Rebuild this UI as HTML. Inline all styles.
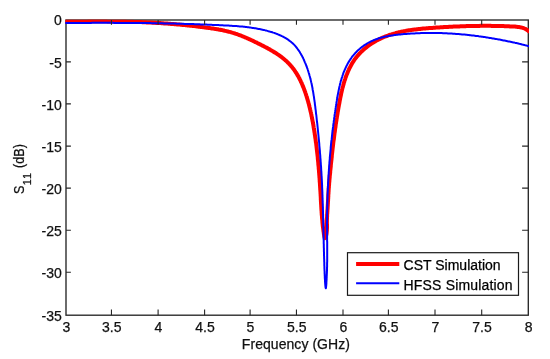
<!DOCTYPE html>
<html><head><meta charset="utf-8"><title>S11 plot</title>
<style>html,body{margin:0;padding:0;background:#fff;width:550px;height:359px;overflow:hidden}svg{display:block}</style>
</head><body>
<svg width="550" height="359" viewBox="0 0 550 359">
<rect width="550" height="359" fill="#fff"/>
<defs><clipPath id="c"><rect x="65.30" y="19.50" width="463.70" height="296.20"/></clipPath></defs>
<rect x="66.0" y="20.0" width="462.30" height="295.20" fill="none" stroke="#262626" stroke-width="1.35"/>
<g clip-path="url(#c)" fill="none" stroke-linejoin="round" stroke-linecap="round">
<polyline points="64.0,21.7 64.9,21.7 65.7,21.6 66.6,21.6 67.5,21.6 68.4,21.6 69.2,21.6 70.1,21.6 71.0,21.6 71.8,21.5 72.7,21.5 73.6,21.5 74.5,21.5 75.3,21.5 76.2,21.5 77.1,21.5 78.0,21.5 78.8,21.4 79.7,21.4 80.6,21.4 81.4,21.4 82.3,21.4 83.2,21.4 84.1,21.4 84.9,21.4 85.8,21.4 86.7,21.4 87.5,21.4 88.4,21.3 89.3,21.3 90.2,21.3 91.0,21.3 91.9,21.3 92.8,21.3 93.6,21.3 94.5,21.3 95.4,21.3 96.3,21.3 97.1,21.3 98.0,21.3 98.9,21.3 99.7,21.3 100.6,21.3 101.5,21.3 102.4,21.3 103.2,21.3 104.1,21.3 105.0,21.3 105.8,21.3 106.7,21.3 107.6,21.4 108.4,21.4 109.3,21.4 110.2,21.4 111.1,21.4 111.9,21.4 112.8,21.4 113.7,21.4 114.5,21.4 115.4,21.4 116.3,21.4 117.1,21.5 118.0,21.5 118.9,21.5 119.8,21.5 120.6,21.5 121.5,21.5 122.4,21.6 123.2,21.6 124.1,21.6 125.0,21.6 125.8,21.6 126.7,21.7 127.6,21.7 128.5,21.7 129.3,21.7 130.2,21.8 131.1,21.8 131.9,21.8 132.8,21.8 133.7,21.9 134.5,21.9 135.4,21.9 136.3,21.9 137.1,22.0 138.0,22.0 138.9,22.0 139.7,22.1 140.6,22.1 141.5,22.1 142.4,22.2 143.2,22.2 144.1,22.3 145.0,22.3 145.8,22.3 146.7,22.4 147.6,22.4 148.4,22.5 149.3,22.5 150.2,22.5 151.0,22.6 151.9,22.6 152.8,22.7 153.6,22.7 154.5,22.8 155.4,22.8 156.2,22.9 157.1,22.9 158.0,23.0 158.8,23.0 159.7,23.1 160.6,23.1 161.5,23.2 162.3,23.3 163.2,23.3 164.1,23.4 164.9,23.4 165.8,23.5 166.7,23.6 167.5,23.6 168.4,23.7 169.3,23.8 170.1,23.8 171.0,23.9 171.9,24.0 172.7,24.0 173.6,24.1 174.5,24.2 175.3,24.2 176.2,24.3 177.1,24.4 177.9,24.5 178.8,24.5 179.7,24.6 180.5,24.7 181.4,24.8 182.3,24.9 183.1,25.0 184.0,25.0 184.9,25.1 185.7,25.2 186.6,25.3 187.5,25.4 188.3,25.5 189.2,25.6 190.1,25.7 190.9,25.8 191.8,25.8 192.7,25.9 193.5,26.0 194.4,26.1 195.3,26.2 196.1,26.3 197.0,26.4 197.9,26.5 198.7,26.7 199.6,26.8 200.5,26.9 201.3,27.0 202.2,27.1 203.1,27.2 203.9,27.3 204.8,27.4 205.7,27.5 206.5,27.7 207.4,27.8 208.3,27.9 209.1,28.0 210.0,28.1 210.9,28.3 211.7,28.4 212.6,28.5 213.5,28.6 214.3,28.8 215.2,28.9 216.1,29.1 216.9,29.2 217.8,29.3 218.6,29.5 219.5,29.7 220.4,29.8 221.2,30.0 222.1,30.1 222.9,30.3 223.8,30.5 224.6,30.7 225.5,30.9 226.3,31.1 227.1,31.3 228.0,31.5 228.8,31.7 229.7,31.9 230.5,32.1 231.3,32.4 232.1,32.6 233.0,32.9 233.8,33.1 234.6,33.4 235.4,33.7 236.2,33.9 237.1,34.2 237.9,34.5 238.7,34.8 239.5,35.1 240.3,35.4 241.1,35.7 241.9,36.0 242.7,36.4 243.5,36.7 244.3,37.0 245.1,37.4 245.9,37.7 246.7,38.0 247.5,38.4 248.3,38.7 249.1,39.1 249.8,39.4 250.6,39.8 251.4,40.2 252.2,40.5 253.0,40.9 253.8,41.3 254.6,41.7 255.4,42.1 256.2,42.4 257.0,42.8 257.7,43.2 258.5,43.6 259.3,44.0 260.1,44.4 260.9,44.8 261.7,45.2 262.5,45.6 263.3,46.0 264.1,46.4 264.8,46.8 265.6,47.2 266.4,47.6 267.2,48.0 268.0,48.5 268.7,48.9 269.5,49.3 270.3,49.8 271.0,50.2 271.8,50.6 272.6,51.1 273.3,51.6 274.1,52.0 274.8,52.5 275.6,52.9 276.3,53.4 277.0,53.9 277.7,54.4 278.5,54.9 279.2,55.4 279.9,55.9 280.6,56.4 281.3,56.9 282.0,57.4 282.7,58.0 283.3,58.5 284.0,59.1 284.7,59.6 285.3,60.2 286.0,60.8 286.6,61.3 287.2,61.9 287.8,62.5 288.4,63.1 289.0,63.7 289.6,64.4 290.2,65.0 290.8,65.6 291.3,66.3 291.9,66.9 292.4,67.6 292.9,68.3 293.5,69.0 294.0,69.7 294.5,70.4 295.0,71.1 295.4,71.8 295.9,72.5 296.4,73.2 296.8,74.0 297.3,74.7 297.7,75.5 298.2,76.2 298.6,77.0 299.0,77.7 299.4,78.5 299.8,79.3 300.2,80.1 300.6,80.9 300.9,81.7 301.3,82.4 301.7,83.2 302.0,84.0 302.4,84.9 302.7,85.7 303.0,86.5 303.4,87.3 303.7,88.1 304.0,88.9 304.3,89.8 304.6,90.6 304.9,91.4 305.2,92.2 305.5,93.1 305.8,93.9 306.0,94.7 306.3,95.6 306.6,96.4 306.8,97.2 307.1,98.1 307.3,98.9 307.6,99.7 307.8,100.6 308.1,101.4 308.3,102.2 308.5,103.1 308.8,103.9 309.0,104.7 309.2,105.6 309.4,106.4 309.6,107.3 309.8,108.1 310.0,108.9 310.2,109.8 310.4,110.6 310.6,111.5 310.8,112.3 311.0,113.1 311.2,114.0 311.4,114.8 311.5,115.7 311.7,116.5 311.9,117.4 312.0,118.2 312.2,119.1 312.4,119.9 312.5,120.8 312.7,121.6 312.9,122.5 313.0,123.3 313.2,124.2 313.3,125.0 313.5,125.9 313.6,126.8 313.7,127.6 313.9,128.5 314.0,129.3 314.2,130.2 314.3,131.0 314.4,131.9 314.6,132.8 314.7,133.6 314.8,134.5 315.0,135.3 315.1,136.2 315.2,137.1 315.3,137.9 315.5,138.8 315.6,139.7 315.7,140.5 315.8,141.4 315.9,142.3 316.1,143.1 316.2,144.0 316.3,144.9 316.4,145.7 316.5,146.6 316.6,147.5 316.7,148.3 316.8,149.2 316.9,150.1 317.0,150.9 317.1,151.8 317.2,152.7 317.3,153.5 317.4,154.4 317.5,155.3 317.6,156.1 317.7,157.0 317.8,157.9 317.8,158.8 317.9,159.6 318.0,160.5 318.1,161.4 318.2,162.2 318.3,163.1 318.3,164.0 318.4,164.9 318.5,165.7 318.6,166.6 318.7,167.5 318.7,168.3 318.8,169.2 318.9,170.1 319.0,170.9 319.0,171.8 319.1,172.7 319.2,173.5 319.2,174.4 319.3,175.3 319.4,176.2 319.4,177.0 319.5,177.9 319.6,178.8 319.6,179.6 319.7,180.5 319.7,181.4 319.8,182.2 319.9,183.1 319.9,184.0 320.0,184.8 320.0,185.7 320.1,186.5 320.1,187.4 320.2,188.3 320.2,189.1 320.3,190.0 320.4,190.9 320.4,191.7 320.5,192.6 320.5,193.4 320.6,194.3 320.6,195.2 320.7,196.0 320.7,196.9 320.8,197.7 320.8,198.6 320.8,199.5 320.9,200.3 320.9,201.2 321.0,202.0 321.0,202.9 321.1,203.7 321.1,204.6 321.2,205.5 321.2,206.3 321.3,207.2 321.3,208.0 321.4,208.9 321.4,209.8 321.5,210.6 321.6,211.5 321.6,212.4 321.7,213.2 321.7,214.1 321.8,215.0 321.9,215.9 322.0,216.8 322.0,217.6 322.1,218.5 322.2,219.4 322.3,220.3 322.4,221.2 322.4,222.1 322.5,223.0 322.6,223.9 322.7,224.8 322.8,225.8 322.9,226.7 323.0,227.6 323.2,228.5 323.3,229.5 323.4,230.4 323.5,231.3 323.7,232.3 323.8,233.3 323.9,234.2 324.1,235.2 324.2,236.1 324.4,237.0 324.6,237.7 324.8,238.1 325.0,238.2 325.3,238.0 325.5,237.5 325.8,236.7 326.0,235.8 326.3,234.9 326.5,233.9 326.6,232.9 326.7,232.0 326.8,231.0 326.9,230.1 326.9,229.1 327.0,228.2 327.0,227.2 327.0,226.3 327.0,225.4 327.0,224.5 326.9,223.6 326.9,222.7 326.9,221.8 326.9,220.9 326.9,220.0 327.0,219.1 327.0,218.2 327.0,217.4 327.1,216.5 327.1,215.6 327.1,214.7 327.2,213.9 327.3,213.0 327.3,212.2 327.4,211.3 327.4,210.5 327.5,209.6 327.6,208.8 327.6,207.9 327.7,207.0 327.7,206.2 327.8,205.3 327.8,204.5 327.9,203.6 327.9,202.8 328.0,201.9 328.0,201.1 328.1,200.2 328.1,199.3 328.2,198.5 328.2,197.6 328.3,196.7 328.3,195.9 328.3,195.0 328.4,194.2 328.5,193.3 328.5,192.4 328.6,191.5 328.6,190.7 328.7,189.8 328.7,188.9 328.8,188.1 328.9,187.2 328.9,186.3 329.0,185.4 329.1,184.6 329.1,183.7 329.2,182.8 329.3,181.9 329.4,181.1 329.4,180.2 329.5,179.3 329.6,178.4 329.7,177.6 329.7,176.7 329.8,175.8 329.9,175.0 330.0,174.1 330.1,173.2 330.2,172.3 330.2,171.5 330.3,170.6 330.4,169.7 330.5,168.8 330.6,168.0 330.7,167.1 330.8,166.2 330.8,165.4 330.9,164.5 331.0,163.6 331.1,162.8 331.2,161.9 331.3,161.0 331.4,160.2 331.5,159.3 331.6,158.4 331.7,157.6 331.8,156.7 331.8,155.8 331.9,155.0 332.0,154.1 332.1,153.2 332.2,152.4 332.3,151.5 332.4,150.7 332.5,149.8 332.6,148.9 332.7,148.1 332.8,147.2 332.9,146.4 333.0,145.5 333.1,144.7 333.2,143.8 333.3,142.9 333.4,142.1 333.5,141.2 333.6,140.4 333.8,139.5 333.9,138.7 334.0,137.8 334.1,137.0 334.2,136.1 334.3,135.2 334.4,134.4 334.5,133.5 334.6,132.7 334.8,131.8 334.9,131.0 335.0,130.1 335.1,129.3 335.2,128.4 335.4,127.5 335.5,126.7 335.6,125.8 335.7,125.0 335.8,124.1 336.0,123.3 336.1,122.4 336.2,121.5 336.4,120.7 336.5,119.8 336.6,119.0 336.8,118.1 336.9,117.3 337.0,116.4 337.2,115.5 337.3,114.7 337.5,113.8 337.6,113.0 337.7,112.1 337.9,111.2 338.0,110.4 338.2,109.5 338.3,108.6 338.5,107.8 338.6,106.9 338.8,106.1 338.9,105.2 339.1,104.3 339.3,103.5 339.4,102.6 339.6,101.7 339.7,100.9 339.9,100.0 340.1,99.1 340.2,98.2 340.4,97.4 340.6,96.5 340.8,95.6 341.0,94.8 341.1,93.9 341.3,93.1 341.5,92.2 341.7,91.3 341.9,90.5 342.1,89.6 342.3,88.8 342.5,87.9 342.8,87.0 343.0,86.2 343.2,85.3 343.5,84.5 343.7,83.6 343.9,82.8 344.2,82.0 344.4,81.1 344.7,80.3 345.0,79.5 345.3,78.6 345.5,77.8 345.8,77.0 346.1,76.2 346.4,75.4 346.7,74.6 347.1,73.8 347.4,73.0 347.7,72.2 348.1,71.4 348.4,70.6 348.8,69.8 349.1,69.0 349.5,68.2 349.9,67.5 350.3,66.7 350.7,66.0 351.1,65.2 351.5,64.5 351.9,63.7 352.4,63.0 352.8,62.3 353.3,61.5 353.8,60.8 354.2,60.1 354.7,59.4 355.2,58.7 355.8,58.0 356.3,57.4 356.8,56.7 357.4,56.0 357.9,55.4 358.5,54.7 359.1,54.1 359.7,53.4 360.3,52.8 360.9,52.2 361.5,51.6 362.1,51.0 362.8,50.4 363.4,49.8 364.1,49.2 364.8,48.6 365.4,48.1 366.1,47.5 366.8,47.0 367.5,46.4 368.2,45.9 368.9,45.4 369.6,44.9 370.4,44.4 371.1,43.9 371.8,43.4 372.6,42.9 373.3,42.5 374.1,42.0 374.8,41.6 375.6,41.2 376.3,40.7 377.1,40.3 377.9,39.9 378.6,39.5 379.4,39.1 380.2,38.8 381.0,38.4 381.7,38.0 382.5,37.7 383.3,37.3 384.1,37.0 384.9,36.7 385.7,36.4 386.5,36.1 387.3,35.8 388.1,35.5 388.9,35.2 389.7,34.9 390.5,34.6 391.4,34.4 392.2,34.1 393.0,33.9 393.8,33.6 394.7,33.4 395.5,33.2 396.3,32.9 397.1,32.7 398.0,32.5 398.8,32.3 399.7,32.1 400.5,31.9 401.3,31.7 402.2,31.6 403.0,31.4 403.9,31.2 404.7,31.1 405.6,30.9 406.4,30.7 407.3,30.6 408.1,30.5 409.0,30.3 409.9,30.2 410.7,30.1 411.6,29.9 412.4,29.8 413.3,29.7 414.2,29.6 415.0,29.5 415.9,29.4 416.8,29.3 417.6,29.2 418.5,29.1 419.4,29.0 420.3,28.9 421.1,28.8 422.0,28.7 422.9,28.6 423.7,28.5 424.6,28.5 425.5,28.4 426.4,28.3 427.2,28.3 428.1,28.2 429.0,28.1 429.9,28.1 430.7,28.0 431.6,27.9 432.5,27.9 433.4,27.8 434.2,27.7 435.1,27.7 436.0,27.6 436.9,27.6 437.7,27.5 438.6,27.5 439.5,27.4 440.3,27.3 441.2,27.3 442.1,27.2 443.0,27.2 443.8,27.1 444.7,27.1 445.6,27.0 446.4,27.0 447.3,26.9 448.2,26.9 449.1,26.8 449.9,26.8 450.8,26.8 451.7,26.7 452.5,26.7 453.4,26.6 454.3,26.6 455.1,26.6 456.0,26.5 456.9,26.5 457.7,26.4 458.6,26.4 459.5,26.4 460.3,26.3 461.2,26.3 462.1,26.3 463.0,26.2 463.8,26.2 464.7,26.2 465.6,26.2 466.4,26.1 467.3,26.1 468.2,26.1 469.0,26.0 469.9,26.0 470.8,26.0 471.6,26.0 472.5,26.0 473.4,25.9 474.2,25.9 475.1,25.9 476.0,25.9 476.8,25.9 477.7,25.9 478.6,25.9 479.4,25.9 480.3,25.8 481.2,25.8 482.0,25.8 482.9,25.8 483.8,25.8 484.6,25.8 485.5,25.8 486.4,25.8 487.2,25.8 488.1,25.8 489.0,25.8 489.8,25.8 490.7,25.8 491.6,25.9 492.4,25.9 493.3,25.9 494.2,25.9 495.0,25.9 495.9,25.9 496.8,25.9 497.7,26.0 498.5,26.0 499.4,26.0 500.3,26.0 501.1,26.0 502.0,26.1 502.9,26.1 503.7,26.1 504.6,26.2 505.5,26.2 506.4,26.2 507.2,26.3 508.1,26.3 509.0,26.3 509.9,26.4 510.7,26.4 511.6,26.4 512.5,26.5 513.3,26.5 514.2,26.6 515.1,26.6 516.0,26.7 516.8,26.8 517.7,26.9 518.6,27.0 519.4,27.1 520.3,27.3 521.1,27.4 521.9,27.6 522.8,27.9 523.6,28.2 524.4,28.5 525.2,28.8 526.0,29.3 526.7,29.7 527.5,30.2 528.2,30.8 529.0,31.4" stroke="#ff0000" stroke-width="4"/>
<polyline points="64.0,23.0 65.0,23.0 66.0,23.0 67.0,23.0 68.0,23.0 69.0,23.0 70.0,22.9 71.0,22.9 72.0,22.9 73.0,22.9 74.0,22.9 75.0,22.9 76.0,22.9 77.0,22.9 78.0,22.9 79.0,22.9 80.0,22.9 81.1,22.9 82.1,22.9 83.1,22.9 84.1,22.9 85.1,22.9 86.1,22.9 87.1,22.9 88.1,22.9 89.1,22.9 90.1,22.9 91.1,22.9 92.1,22.8 93.1,22.8 94.1,22.8 95.1,22.8 96.1,22.8 97.1,22.8 98.1,22.8 99.1,22.8 100.1,22.8 101.1,22.8 102.1,22.8 103.1,22.8 104.1,22.8 105.2,22.8 106.2,22.8 107.2,22.8 108.2,22.8 109.2,22.8 110.2,22.8 111.2,22.8 112.2,22.8 113.2,22.8 114.2,22.9 115.2,22.9 116.2,22.9 117.2,22.9 118.2,22.9 119.2,22.9 120.2,22.9 121.2,22.9 122.2,22.9 123.2,22.9 124.2,22.9 125.3,22.9 126.3,22.9 127.3,22.9 128.3,22.9 129.3,22.9 130.3,22.9 131.3,22.9 132.3,22.9 133.3,23.0 134.3,23.0 135.3,23.0 136.3,23.0 137.3,23.0 138.3,23.0 139.3,23.0 140.3,23.0 141.3,23.0 142.3,23.0 143.3,23.1 144.4,23.1 145.4,23.1 146.4,23.1 147.4,23.1 148.4,23.1 149.4,23.1 150.4,23.1 151.4,23.2 152.4,23.2 153.4,23.2 154.4,23.2 155.4,23.2 156.4,23.2 157.4,23.3 158.4,23.3 159.4,23.3 160.4,23.3 161.4,23.3 162.4,23.3 163.4,23.4 164.5,23.4 165.5,23.4 166.5,23.4 167.5,23.4 168.5,23.5 169.5,23.5 170.5,23.5 171.5,23.5 172.5,23.6 173.5,23.6 174.5,23.6 175.5,23.6 176.5,23.7 177.5,23.7 178.5,23.7 179.5,23.7 180.5,23.8 181.5,23.8 182.5,23.8 183.5,23.8 184.5,23.9 185.5,23.9 186.6,23.9 187.6,24.0 188.6,24.0 189.6,24.0 190.6,24.0 191.6,24.1 192.6,24.1 193.6,24.1 194.6,24.2 195.6,24.2 196.6,24.2 197.6,24.3 198.6,24.3 199.6,24.3 200.6,24.4 201.6,24.4 202.6,24.5 203.6,24.5 204.6,24.5 205.6,24.6 206.6,24.6 207.6,24.7 208.6,24.7 209.6,24.7 210.6,24.8 211.6,24.8 212.6,24.9 213.6,24.9 214.6,24.9 215.6,25.0 216.6,25.0 217.6,25.1 218.6,25.1 219.6,25.2 220.6,25.2 221.6,25.3 222.7,25.3 223.7,25.4 224.7,25.4 225.7,25.5 226.7,25.5 227.7,25.6 228.7,25.6 229.7,25.7 230.7,25.7 231.7,25.8 232.7,25.9 233.7,25.9 234.7,26.0 235.7,26.1 236.7,26.1 237.7,26.2 238.6,26.3 239.6,26.4 240.6,26.5 241.6,26.5 242.6,26.6 243.6,26.7 244.6,26.8 245.6,27.0 246.6,27.1 247.6,27.2 248.6,27.3 249.6,27.4 250.6,27.6 251.6,27.7 252.6,27.9 253.6,28.0 254.6,28.2 255.6,28.3 256.5,28.5 257.5,28.7 258.5,28.9 259.5,29.1 260.5,29.3 261.5,29.5 262.5,29.7 263.5,29.9 264.4,30.1 265.4,30.4 266.4,30.6 267.4,30.9 268.4,31.2 269.4,31.4 270.3,31.7 271.3,32.0 272.3,32.3 273.2,32.6 274.2,32.9 275.2,33.3 276.1,33.6 277.1,34.0 278.0,34.4 278.9,34.8 279.9,35.2 280.8,35.6 281.7,36.0 282.6,36.5 283.5,36.9 284.3,37.4 285.2,37.9 286.1,38.4 286.9,38.9 287.7,39.4 288.5,40.0 289.3,40.6 290.1,41.2 290.9,41.8 291.6,42.4 292.4,43.1 293.1,43.7 293.8,44.4 294.5,45.1 295.2,45.9 295.8,46.6 296.4,47.4 297.0,48.2 297.6,49.0 298.2,49.8 298.8,50.6 299.4,51.5 299.9,52.3 300.4,53.2 300.9,54.0 301.4,54.9 301.9,55.8 302.4,56.7 302.8,57.6 303.3,58.5 303.7,59.5 304.1,60.4 304.5,61.3 304.9,62.3 305.3,63.2 305.7,64.1 306.1,65.1 306.4,66.0 306.8,66.9 307.1,67.9 307.5,68.8 307.8,69.8 308.1,70.7 308.4,71.7 308.7,72.7 309.0,73.6 309.3,74.6 309.5,75.5 309.8,76.5 310.1,77.5 310.3,78.4 310.6,79.4 310.8,80.4 311.0,81.4 311.2,82.3 311.5,83.3 311.7,84.3 311.9,85.3 312.1,86.2 312.3,87.2 312.5,88.2 312.6,89.2 312.8,90.2 313.0,91.2 313.2,92.2 313.3,93.1 313.5,94.1 313.6,95.1 313.8,96.1 314.0,97.1 314.1,98.1 314.2,99.1 314.4,100.1 314.5,101.1 314.7,102.1 314.8,103.1 314.9,104.1 315.0,105.1 315.2,106.1 315.3,107.1 315.4,108.1 315.5,109.1 315.7,110.1 315.8,111.1 315.9,112.1 316.0,113.1 316.1,114.1 316.3,115.0 316.4,116.0 316.5,117.0 316.6,118.0 316.7,119.0 316.8,120.0 316.9,121.0 317.0,122.0 317.2,123.0 317.3,124.0 317.4,125.0 317.5,126.0 317.6,127.0 317.7,128.0 317.8,129.0 317.9,130.0 318.0,131.0 318.1,132.0 318.2,133.0 318.3,134.0 318.4,135.0 318.5,136.0 318.6,137.0 318.7,138.0 318.8,139.0 318.9,140.0 319.0,141.0 319.1,142.0 319.2,143.0 319.3,144.0 319.3,145.0 319.4,146.0 319.5,147.0 319.6,148.0 319.7,149.0 319.8,150.0 319.9,151.0 319.9,152.0 320.0,153.0 320.1,154.0 320.2,155.0 320.3,156.0 320.3,157.0 320.4,158.0 320.5,159.0 320.6,160.0 320.6,161.0 320.7,162.0 320.8,163.0 320.8,164.0 320.9,165.0 321.0,166.0 321.1,167.0 321.1,168.0 321.2,169.1 321.2,170.1 321.3,171.1 321.4,172.1 321.4,173.1 321.5,174.1 321.5,175.1 321.6,176.1 321.7,177.1 321.7,178.1 321.8,179.1 321.8,180.1 321.9,181.1 321.9,182.1 322.0,183.1 322.0,184.1 322.1,185.1 322.1,186.1 322.1,187.1 322.2,188.1 322.2,189.1 322.3,190.1 322.3,191.1 322.4,192.1 322.4,193.1 322.4,194.2 322.5,195.2 322.5,196.2 322.5,197.2 322.6,198.2 322.6,199.2 322.6,200.2 322.7,201.2 322.7,202.2 322.7,203.2 322.8,204.2 322.8,205.2 322.8,206.2 322.9,207.2 322.9,208.2 322.9,209.2 322.9,210.2 323.0,211.2 323.0,212.2 323.0,213.2 323.1,214.3 323.1,215.3 323.1,216.3 323.1,217.3 323.2,218.3 323.2,219.3 323.2,220.3 323.2,221.3 323.2,222.3 323.3,223.3 323.3,224.3 323.3,225.3 323.3,226.3 323.4,227.3 323.4,228.3 323.4,229.3 323.4,230.3 323.5,231.3 323.5,232.3 323.5,233.3 323.5,234.3 323.6,235.3 323.6,236.3 323.6,237.3 323.6,238.3 323.6,239.3 323.7,240.3 323.7,241.3 323.7,242.3 323.7,243.3 323.8,244.3 323.8,245.3 323.8,246.3 323.8,247.3 323.9,248.3 323.9,249.3 323.9,250.3 323.9,251.3 324.0,252.3 324.0,253.3 324.0,254.3 324.0,255.3 324.1,256.3 324.1,257.3 324.1,258.3 324.2,259.3 324.2,260.3 324.2,261.3 324.3,262.3 324.3,263.3 324.3,264.3 324.3,265.3 324.4,266.4 324.4,267.4 324.4,268.4 324.5,269.4 324.5,270.4 324.6,271.4 324.6,272.4 324.6,273.4 324.7,274.5 324.7,275.5 324.8,276.6 324.8,277.8 324.9,278.9 325.0,280.1 325.0,281.4 325.1,282.7 325.2,283.9 325.3,285.1 325.4,286.1 325.5,287.0 325.6,287.7 325.7,288.1 325.8,288.2 325.9,288.0 326.0,287.5 326.1,286.7 326.2,285.8 326.3,284.7 326.4,283.5 326.4,282.2 326.5,280.9 326.6,279.7 326.6,278.5 326.7,277.3 326.7,276.2 326.8,275.1 326.8,274.1 326.9,273.0 326.9,272.0 327.0,270.9 327.0,269.9 327.0,268.9 327.0,267.9 327.1,266.9 327.1,265.9 327.1,264.9 327.1,263.9 327.1,262.8 327.2,261.8 327.2,260.8 327.2,259.8 327.2,258.8 327.2,257.8 327.2,256.8 327.2,255.8 327.2,254.8 327.2,253.8 327.2,252.8 327.2,251.9 327.2,250.9 327.2,249.9 327.2,248.9 327.2,247.9 327.2,246.9 327.2,245.9 327.2,244.9 327.2,243.9 327.2,242.9 327.2,241.9 327.1,240.9 327.1,239.9 327.1,238.9 327.1,237.9 327.1,236.9 327.1,235.9 327.1,235.0 327.1,234.0 327.1,233.0 327.1,232.0 327.1,231.0 327.1,230.0 327.1,229.0 327.1,228.0 327.1,227.0 327.0,226.0 327.0,225.0 327.0,224.0 327.0,223.0 327.0,222.0 327.1,221.0 327.1,220.0 327.1,218.9 327.1,217.9 327.1,216.9 327.1,215.9 327.1,214.9 327.1,213.9 327.1,212.9 327.1,211.9 327.2,210.9 327.2,209.9 327.2,208.9 327.2,207.9 327.2,206.9 327.3,205.8 327.3,204.8 327.3,203.8 327.3,202.8 327.4,201.8 327.4,200.8 327.4,199.8 327.5,198.8 327.5,197.8 327.5,196.7 327.6,195.7 327.6,194.7 327.6,193.7 327.7,192.7 327.7,191.7 327.8,190.7 327.8,189.7 327.8,188.7 327.9,187.7 327.9,186.6 328.0,185.6 328.0,184.6 328.1,183.6 328.1,182.6 328.2,181.6 328.3,180.6 328.3,179.6 328.4,178.6 328.4,177.6 328.5,176.6 328.5,175.6 328.6,174.5 328.7,173.5 328.7,172.5 328.8,171.5 328.9,170.5 328.9,169.5 329.0,168.5 329.1,167.5 329.1,166.5 329.2,165.5 329.3,164.5 329.4,163.5 329.4,162.5 329.5,161.5 329.6,160.5 329.7,159.6 329.8,158.6 329.8,157.6 329.9,156.6 330.0,155.6 330.1,154.6 330.2,153.6 330.3,152.6 330.4,151.6 330.5,150.6 330.6,149.6 330.7,148.6 330.7,147.7 330.8,146.7 330.9,145.7 331.0,144.7 331.1,143.7 331.2,142.7 331.3,141.7 331.4,140.7 331.6,139.7 331.7,138.8 331.8,137.8 331.9,136.8 332.0,135.8 332.1,134.8 332.2,133.8 332.3,132.8 332.4,131.8 332.6,130.8 332.7,129.8 332.8,128.9 332.9,127.9 333.1,126.9 333.2,125.9 333.3,124.9 333.4,123.9 333.6,122.9 333.7,121.9 333.8,120.9 334.0,119.9 334.1,118.9 334.2,117.9 334.4,116.9 334.5,115.9 334.6,114.9 334.8,113.9 334.9,112.9 335.1,111.9 335.2,110.9 335.4,109.9 335.5,108.9 335.7,107.9 335.8,106.9 336.0,105.9 336.1,104.9 336.3,103.9 336.4,102.9 336.6,101.9 336.8,100.9 336.9,99.8 337.1,98.8 337.3,97.8 337.4,96.8 337.6,95.8 337.8,94.8 338.0,93.8 338.2,92.8 338.4,91.8 338.6,90.8 338.8,89.7 339.0,88.7 339.2,87.7 339.4,86.8 339.7,85.8 339.9,84.8 340.1,83.8 340.4,82.8 340.6,81.8 340.9,80.8 341.2,79.9 341.5,78.9 341.8,77.9 342.1,77.0 342.4,76.0 342.7,75.1 343.0,74.1 343.4,73.2 343.7,72.2 344.1,71.3 344.5,70.4 344.9,69.5 345.3,68.6 345.7,67.7 346.1,66.8 346.5,65.9 347.0,65.0 347.4,64.2 347.9,63.3 348.4,62.4 348.9,61.6 349.4,60.8 350.0,59.9 350.5,59.1 351.1,58.3 351.6,57.5 352.2,56.7 352.8,55.9 353.5,55.2 354.1,54.4 354.8,53.7 355.4,52.9 356.1,52.2 356.8,51.5 357.5,50.8 358.3,50.1 359.0,49.5 359.8,48.8 360.5,48.1 361.3,47.5 362.1,46.9 362.9,46.3 363.7,45.7 364.5,45.2 365.3,44.6 366.2,44.1 367.0,43.5 367.9,43.0 368.8,42.5 369.6,42.1 370.5,41.6 371.4,41.2 372.3,40.8 373.2,40.4 374.1,40.0 375.1,39.6 376.0,39.3 376.9,39.0 377.9,38.6 378.8,38.3 379.8,38.0 380.7,37.8 381.7,37.5 382.7,37.3 383.6,37.0 384.6,36.8 385.6,36.6 386.6,36.4 387.6,36.2 388.6,36.0 389.6,35.8 390.6,35.7 391.6,35.5 392.6,35.4 393.6,35.2 394.6,35.1 395.6,35.0 396.6,34.8 397.6,34.7 398.6,34.6 399.7,34.5 400.7,34.4 401.7,34.3 402.7,34.2 403.7,34.1 404.7,34.1 405.7,34.0 406.7,33.9 407.8,33.8 408.8,33.7 409.8,33.7 410.8,33.6 411.8,33.6 412.8,33.5 413.8,33.4 414.8,33.4 415.8,33.3 416.8,33.3 417.8,33.2 418.9,33.2 419.9,33.2 420.9,33.1 421.9,33.1 422.9,33.1 423.9,33.1 424.9,33.0 425.9,33.0 426.9,33.0 427.9,33.0 428.9,33.0 429.9,33.0 430.9,33.0 431.9,33.0 432.9,33.0 433.9,33.0 434.9,33.0 435.9,33.0 436.9,33.0 437.9,33.0 438.9,33.1 439.9,33.1 440.9,33.1 441.9,33.1 442.9,33.2 443.9,33.2 444.9,33.3 445.9,33.3 446.9,33.3 447.9,33.4 448.9,33.4 449.9,33.5 450.9,33.5 451.9,33.6 452.9,33.7 453.9,33.7 454.9,33.8 455.9,33.9 456.9,33.9 457.9,34.0 458.9,34.1 459.9,34.2 460.9,34.3 461.9,34.4 462.9,34.4 463.9,34.5 464.9,34.6 465.9,34.7 466.9,34.8 467.9,34.9 468.9,35.0 469.8,35.2 470.8,35.3 471.8,35.4 472.8,35.5 473.8,35.6 474.8,35.7 475.8,35.9 476.8,36.0 477.8,36.1 478.8,36.3 479.8,36.4 480.8,36.5 481.8,36.7 482.7,36.8 483.7,37.0 484.7,37.1 485.7,37.2 486.7,37.4 487.7,37.6 488.7,37.7 489.7,37.9 490.7,38.0 491.7,38.2 492.6,38.4 493.6,38.5 494.6,38.7 495.6,38.9 496.6,39.1 497.6,39.2 498.6,39.4 499.6,39.6 500.5,39.8 501.5,40.0 502.5,40.2 503.5,40.4 504.5,40.6 505.5,40.8 506.5,41.0 507.5,41.2 508.4,41.4 509.4,41.6 510.4,41.8 511.4,42.0 512.4,42.2 513.4,42.4 514.4,42.6 515.3,42.9 516.3,43.1 517.3,43.3 518.3,43.5 519.3,43.8 520.3,44.0 521.3,44.2 522.2,44.5 523.2,44.7 524.2,44.9 525.2,45.2 526.2,45.4 527.2,45.7 528.1,45.9 529.1,46.2" stroke="#0000ff" stroke-width="2"/>
</g>
<path d="M111.45 315.20V309.40M111.45 20.00V24.70M158.10 315.20V309.40M158.10 20.00V24.70M204.60 315.20V309.40M204.60 20.00V24.70M250.10 315.20V309.40M250.10 20.00V24.70M296.45 315.20V309.40M296.45 20.00V24.70M343.00 315.20V309.40M343.00 20.00V24.70M388.40 315.20V309.40M388.40 20.00V24.70M435.00 315.20V309.40M435.00 20.00V24.70M481.70 315.20V309.40M481.70 20.00V24.70M66.00 61.90H70.90M528.30 61.90H522.10M66.00 103.90H70.90M528.30 103.90H522.10M66.00 146.10H70.90M528.30 146.10H522.10M66.00 188.10H70.90M528.30 188.10H522.10M66.00 230.20H70.90M528.30 230.20H522.10M66.00 272.20H70.90M528.30 272.20H522.10" stroke="#262626" stroke-width="1.1" fill="none"/>
<g font-family="Liberation Sans, Arial, sans-serif" font-size="14" fill="#111" stroke="#111" stroke-width="0.25">
<text x="66.35" y="331.8" text-anchor="middle">3</text>
<text x="111.80" y="331.8" text-anchor="middle">3.5</text>
<text x="158.45" y="331.8" text-anchor="middle">4</text>
<text x="204.95" y="331.8" text-anchor="middle">4.5</text>
<text x="250.45" y="331.8" text-anchor="middle">5</text>
<text x="296.80" y="331.8" text-anchor="middle">5.5</text>
<text x="343.35" y="331.8" text-anchor="middle">6</text>
<text x="388.75" y="331.8" text-anchor="middle">6.5</text>
<text x="435.35" y="331.8" text-anchor="middle">7</text>
<text x="482.05" y="331.8" text-anchor="middle">7.5</text>
<text x="528.55" y="331.8" text-anchor="middle">8</text>
<text x="61.8" y="25.10" text-anchor="end">0</text>
<text x="61.8" y="67.90" text-anchor="end">-5</text>
<text x="61.8" y="109.90" text-anchor="end">-10</text>
<text x="61.8" y="152.10" text-anchor="end">-15</text>
<text x="61.8" y="194.10" text-anchor="end">-20</text>
<text x="61.8" y="236.20" text-anchor="end">-25</text>
<text x="61.8" y="278.20" text-anchor="end">-30</text>
<text x="61.8" y="320.60" text-anchor="end">-35</text>
<text x="295.9" y="349.3" text-anchor="middle" letter-spacing="0.05">Frequency (GHz)</text>
<text transform="translate(23.7,193.9) rotate(-90) scale(0.9,1)">S</text>
<text transform="translate(30.6,185.3) rotate(-90)" font-size="10.8" letter-spacing="1">11</text>
<text transform="translate(23.7,167.9) rotate(-90) scale(0.9,1)">(dB)</text>
</g>
<rect x="347.5" y="252.7" width="171.0" height="42.6" fill="#fff" stroke="#1a1a1a" stroke-width="1.2"/>
<line x1="356.1" y1="263.9" x2="399.3" y2="263.9" stroke="#ff0000" stroke-width="4"/>
<line x1="356.1" y1="283.3" x2="399.3" y2="283.3" stroke="#0000ff" stroke-width="2"/>
<g font-family="Liberation Sans, Arial, sans-serif" font-size="14" fill="#000" stroke="#000" stroke-width="0.25">
<text x="403.6" y="270.0">CST Simulation</text>
<text x="403.6" y="290.4" letter-spacing="0.17">HFSS Simulation</text>
</g>
</svg>
</body></html>
